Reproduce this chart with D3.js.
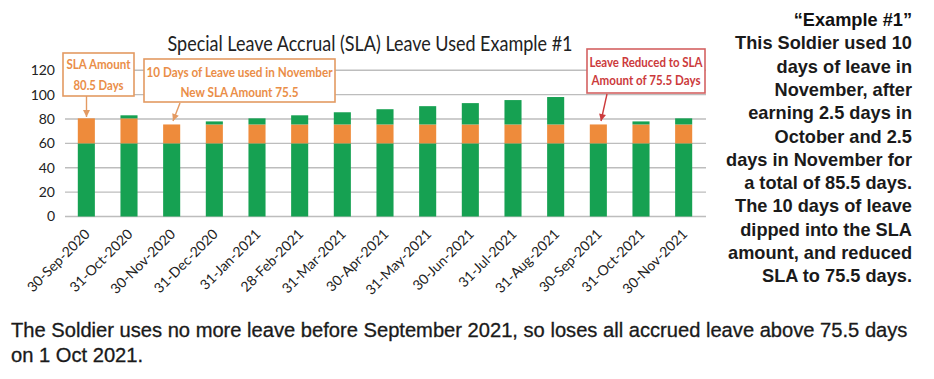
<!DOCTYPE html>
<html><head><meta charset="utf-8">
<script src="https://cdn.jsdelivr.net/npm/d3@7"></script>
<style>
html,body{margin:0;padding:0;background:#fff;}
svg{display:block;}
</style></head>
<body>
<svg id="c" width="934" height="379"></svg>
<script>
const categories = ["30-Sep-2020","31-Oct-2020","30-Nov-2020","31-Dec-2020","31-Jan-2021","28-Feb-2021","31-Mar-2021","30-Apr-2021","31-May-2021","30-Jun-2021","31-Jul-2021","31-Aug-2021","30-Sep-2021","31-Oct-2021","30-Nov-2021"];
const baseLeave = [60,60,60,60,60,60,60,60,60,60,60,60,60,60,60];
const slaLeave  = [20.5,20.5,15.5,15.5,15.5,15.5,15.5,15.5,15.5,15.5,15.5,15.5,15.5,15.5,15.5];
const extraLeave= [0,2.5,0,2.5,5,7.5,10,12.5,15,17.5,20,22.5,0,2.5,5];
const yTicks = [0,20,40,60,80,100,120];
const title = "Special Leave Accrual (SLA) Leave Used Example #1";
const note1 = ["SLA Amount", "80.5 Days"];
const note2 = ["10 Days of Leave used in November", "New SLA Amount 75.5"];
const note3 = ["Leave Reduced to SLA", "Amount of 75.5 Days"];
const sideText = ["\u201cExample #1\u201d","This Soldier used 10","days of leave in","November, after","earning 2.5 days in","October and 2.5","days in November for","a total of 85.5 days.","The 10 days of leave","dipped into the SLA","amount, and reduced","SLA to 75.5 days."];
const bottomText = ["The Soldier uses no more leave before September 2021, so loses all accrued leave above 75.5 days","on 1 Oct 2021."];

const svg = d3.select("#c");
const CAL = "Lato, 'Liberation Sans Narrow', sans-serif";
const ARIAL = "'Liberation Sans', Arial, sans-serif";
const green = "#16A152", orange = "#EE8B3B", red = "#CC3A3C";

const x = d3.scaleBand().domain(categories).range([65, 705]).paddingInner(0.6).paddingOuter(0.3);
const y = d3.scaleLinear().domain([0, 120]).range([216.5, 70.2]);

// gridlines
svg.append("g").selectAll("line").data(yTicks).join("line")
  .attr("x1", 65).attr("x2", 706).attr("y1", d => y(d)).attr("y2", d => y(d))
  .attr("stroke", "#bdbdbd").attr("stroke-width", 1.4);

// y axis labels
const yAx = svg.append("g").attr("transform", "translate(55,0)")
  .call(d3.axisLeft(y).tickValues(yTicks).tickSize(0).tickPadding(0));
yAx.select(".domain").remove();
yAx.selectAll("text").attr("font-family", CAL).attr("font-size", 14).attr("fill", "#222");

// stacked bars
const rows = categories.map((c, i) => ({cat: c, base: baseLeave[i], sla: slaLeave[i], extra: extraLeave[i]}));
const stack = d3.stack().keys(["base","sla","extra"])(rows);
const colors = {base: green, sla: orange, extra: green};
svg.append("g").selectAll("g").data(stack).join("g").attr("fill", d => colors[d.key])
  .selectAll("rect").data(d => d).join("rect")
  .attr("x", d => x(d.data.cat)).attr("width", x.bandwidth())
  .attr("y", d => y(d[1])).attr("height", d => y(d[0]) - y(d[1]));

// x axis labels
const xAx = svg.append("g").attr("transform", `translate(0,${y(0)})`)
  .call(d3.axisBottom(x).tickSize(0));
xAx.select(".domain").remove();
xAx.selectAll("text").attr("font-family", CAL).attr("font-size", 14).attr("fill", "#222")
  .attr("text-anchor", "end").attr("transform", "translate(1,15) rotate(-45)").attr("dy", "0.35em").attr("y", 0);

// title
svg.append("text").attr("x", 370).attr("y", 51).attr("text-anchor", "middle")
  .attr("font-family", CAL).attr("font-size", 20.5).attr("fill", "#222")
  .attr("textLength", 405).attr("lengthAdjust", "spacingAndGlyphs").text(title);

// annotation boxes
function box(x0, y0, w, h, stroke, col, lines, ys, widths) {
  const g = svg.append("g");
  g.append("rect").attr("x", x0).attr("y", y0).attr("width", w).attr("height", h)
    .attr("fill", "#fff").attr("stroke", stroke).attr("stroke-width", 1.6);
  lines.forEach((t, i) => {
    g.append("text").attr("x", x0 + w / 2).attr("y", ys[i])
      .attr("text-anchor", "middle").attr("font-family", CAL).attr("font-weight", 700)
      .attr("font-size", 13.5).attr("fill", col)
      .attr("textLength", widths[i]).attr("lengthAdjust", "spacingAndGlyphs").text(t);
  });
}
function arrow(x1, y1, x2, y2, col) {
  svg.append("line").attr("x1", x1).attr("y1", y1).attr("x2", x2).attr("y2", y2)
    .attr("stroke", col).attr("stroke-width", 1.4);
  const a = Math.atan2(y2 - y1, x2 - x1), L = 7, W = 3.5;
  const p = [[x2, y2],[x2 - L*Math.cos(a) + W*Math.sin(a), y2 - L*Math.sin(a) - W*Math.cos(a)],[x2 - L*Math.cos(a) - W*Math.sin(a), y2 - L*Math.sin(a) + W*Math.cos(a)]];
  svg.append("path").attr("d", "M" + p.join("L") + "Z").attr("fill", col);
}
const oLine = "#E39A62", oText = "#EA8E48";
box(63, 53, 71, 43, oLine, oText, note1, [69, 90], [64, 50]);
arrow(86.5, 96, 86.5, 117, oLine);
box(144, 59, 191, 43, oLine, oText, note2, [77, 97], [186, 118]);
arrow(180, 103, 173, 121, oLine);
box(587, 49, 118, 44, "#D46262", red, note3, [67, 85], [113, 109]);
arrow(607, 94, 601, 121, red);

// side text
sideText.forEach((t, i) => {
  svg.append("text").attr("x", 912).attr("y", 26 + i * 23.3).attr("text-anchor", "end")
    .attr("font-family", ARIAL).attr("font-weight", 700)
    .attr("font-size", 18.2).attr("fill", i === 0 ? "#111" : "#1a1a1a").text(t);
});

// bottom text (horizontally condensed like the reference)
const bg = svg.append("g");
const bt = bottomText.map((t, i) => bg.append("text").attr("x", 0).attr("y", 337 + i * 25)
    .attr("font-family", ARIAL).attr("font-size", 19.5).attr("fill", "#1a1a1a")
    .attr("stroke", "#1a1a1a").attr("stroke-width", 0.3).text(t));
const natural = bt[0].node().getComputedTextLength();
const sx = 897 / natural;
bg.attr("transform", `translate(11,0) scale(${sx},1)`);
</script>
</body></html>
